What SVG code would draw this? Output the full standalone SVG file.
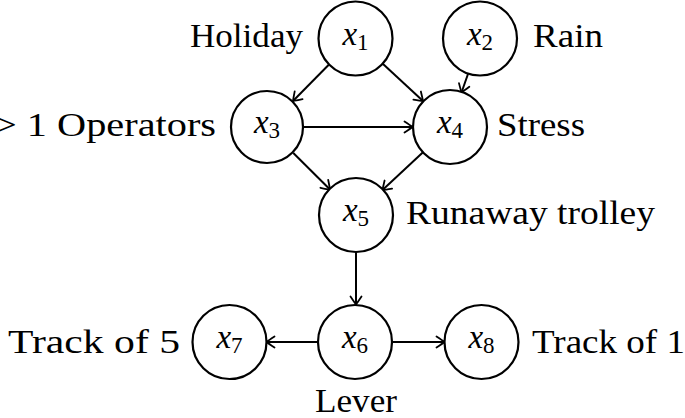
<svg xmlns="http://www.w3.org/2000/svg" width="685" height="418" viewBox="0 0 685 418" font-family="Liberation Serif, DejaVu Serif, serif">
<style>
.n{fill:#fff;stroke:#000;stroke-width:2.2}
.e{stroke:#000;stroke-width:2;fill:none;marker-end:url(#ah)}
.t{font-size:34px;fill:#000}
.m{font-size:33px;font-style:italic;fill:#000}
.s{font-style:normal;font-size:23px}
</style>
<defs>
<marker id="ah" viewBox="-10 -7 12 14" refX="0" refY="0" markerWidth="12" markerHeight="14" markerUnits="userSpaceOnUse" orient="auto">
<path d="M-8,-5.5 Q-2,-1.5 0,0 Q-2,1.5 -8,5.5" fill="none" stroke="#000" stroke-width="1.8" stroke-linecap="round"/>
</marker>
</defs>
<rect width="685" height="418" fill="#fff"/>
<g id="connectors">
<line class="e" x1="329" y1="64.5" x2="293" y2="101"/>
<line class="e" x1="382.5" y1="63.5" x2="423" y2="101"/>
<line class="e" x1="468" y1="74" x2="461.5" y2="92.5"/>
<line class="e" x1="304" y1="127" x2="412.5" y2="127"/>
<line class="e" x1="293.3" y1="153" x2="330" y2="189.5"/>
<line class="e" x1="423" y1="152.3" x2="382.5" y2="190"/>
<line class="e" x1="356" y1="252" x2="356" y2="304.5"/>
<line class="e" x1="318" y1="342" x2="266.5" y2="342"/>
<line class="e" x1="392" y1="342" x2="444.5" y2="342"/>
</g>
<g id="x1"><circle class="n" cx="355.5" cy="38.5" r="37"/><text class="m" x="355.5" y="45" text-anchor="middle">x<tspan class="s" dy="5">1</tspan></text><text class="t" x="190" y="47" textLength="113" lengthAdjust="spacingAndGlyphs">Holiday</text></g>
<g id="x2"><circle class="n" cx="480" cy="38.5" r="37"/><text class="m" x="480" y="45" text-anchor="middle">x<tspan class="s" dy="5">2</tspan></text><text class="t" x="533" y="47" textLength="70" lengthAdjust="spacingAndGlyphs">Rain</text></g>
<g id="x3"><circle class="n" cx="267" cy="127" r="36"/><text class="m" x="267" y="133" text-anchor="middle">x<tspan class="s" dy="5">3</tspan></text><text class="t" x="-6" y="136" textLength="222" lengthAdjust="spacingAndGlyphs">&gt; 1 Operators</text></g>
<g id="x4"><circle class="n" cx="450" cy="127" r="37"/><text class="m" x="450" y="133" text-anchor="middle">x<tspan class="s" dy="5">4</tspan></text><text class="t" x="497" y="136" textLength="88" lengthAdjust="spacingAndGlyphs">Stress</text></g>
<g id="x5"><circle class="n" cx="356" cy="215" r="37"/><text class="m" x="356" y="221" text-anchor="middle">x<tspan class="s" dy="5">5</tspan></text><text class="t" x="406" y="224" textLength="249" lengthAdjust="spacingAndGlyphs">Runaway trolley</text></g>
<g id="x6"><circle class="n" cx="355" cy="342" r="37"/><text class="m" x="355" y="348" text-anchor="middle">x<tspan class="s" dy="5">6</tspan></text><text class="t" x="315" y="412" textLength="82" lengthAdjust="spacingAndGlyphs">Lever</text></g>
<g id="x7"><circle class="n" cx="229.5" cy="342" r="37"/><text class="m" x="229.5" y="348" text-anchor="middle">x<tspan class="s" dy="5">7</tspan></text><text class="t" x="8" y="353" textLength="172" lengthAdjust="spacingAndGlyphs">Track of 5</text></g>
<g id="x8"><circle class="n" cx="481.5" cy="342" r="37"/><text class="m" x="481.5" y="348" text-anchor="middle">x<tspan class="s" dy="5">8</tspan></text><text class="t" x="532" y="353" textLength="153" lengthAdjust="spacingAndGlyphs">Track of 1</text></g>
</svg>
